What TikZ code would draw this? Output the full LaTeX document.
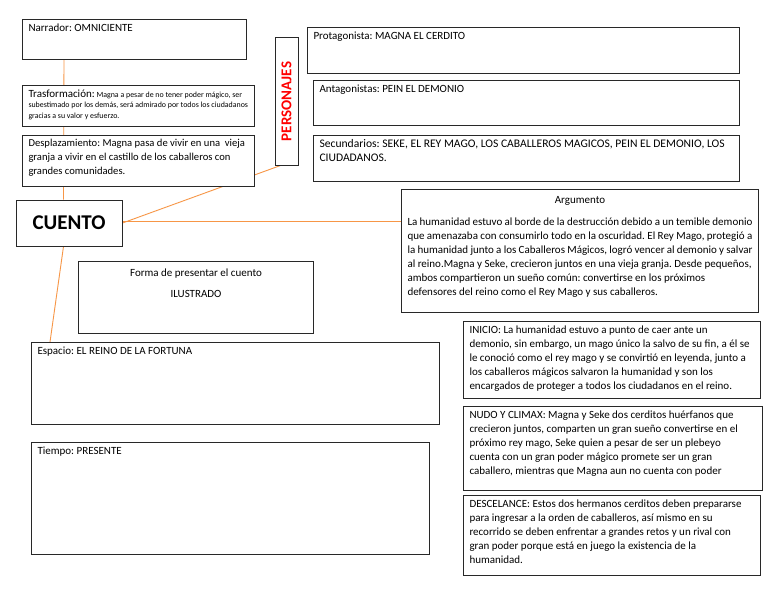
\documentclass[tikz,border=0pt]{standalone}
\usepackage{fontspec}
\setmainfont{Carlito}
\usepackage{tikz}
\usetikzlibrary{positioning,backgrounds}
\definecolor{naranja}{RGB}{247,150,70}
\definecolor{borde}{RGB}{40,40,40}
\definecolor{rojo}{RGB}{255,0,0}
\frenchspacing
\newcommand{\cajatxt}[3]{\parbox[t][#2][t]{#1}{\raggedright #3}}
\tikzset{
  caja/.style={draw=borde,line width=1pt,fill=white,anchor=north west,inner xsep=6pt,inner ysep=4pt,font=\fontsize{11}{14}\selectfont},
  titulo/.style={draw=borde,line width=1pt,fill=white,inner sep=0pt,font=\bfseries},
  enlace/.style={draw=naranja,line width=0.9pt},
}

\begin{document}
\begin{tikzpicture}[x=1pt,y=-1pt]
  \useasboundingbox (0,0) rectangle (768,594);
  % columna izquierda
  \node[caja] (narr) at (22,19) {\cajatxt{212pt}{32pt}{Narrador: OMNICIENTE}};
  \node[caja] (trasf) at (22,85) {\cajatxt{220pt}{33pt}{\fontsize{7.9}{10.5}\selectfont{\fontsize{11}{14}\selectfont Trasformación:} Magna a pesar de no tener poder mágico, ser\\subestimado por los demás, será admirado por todos los ciudadanos\\gracias a su valor y esfuerzo.}};
  \node[caja] (despl) at (22,135) {\cajatxt{220pt}{43pt}{\fontsize{10.6}{14}\selectfont Desplazamiento: Magna pasa de vivir en una~ vieja\\granja a vivir en el castillo de los caballeros con\\grandes comunidades.}};
  \node[titulo,minimum width=106pt,minimum height=46pt,font=\fontsize{21}{21}\selectfont\bfseries] (cuento) at (69,223) {CUENTO};
  \node[caja] (forma) at (78,261) {\cajatxt{223pt}{64pt}{\centering\vspace*{3pt}Forma de presentar el cuento\\[7pt]ILUSTRADO}};
  \node[caja] (espacio) at (31,342) {\cajatxt{396pt}{74pt}{Espacio: EL REINO DE LA FORTUNA}};
  \node[caja] (tiempo) at (31,442) {\cajatxt{386pt}{104pt}{Tiempo: PRESENTE}};
  % personajes
  \node[titulo,minimum width=23pt,minimum height=127pt,text=rojo,font=\fontsize{15}{15}\selectfont\bfseries] (pers) at (286.5,101.5) {\rotatebox{90}{PERSONAJES}};
  \node[caja] (prot) at (307,27) {\cajatxt{420pt}{38pt}{Protagonista: MAGNA EL CERDITO}};
  \node[caja] (antag) at (313,80) {\cajatxt{414pt}{37pt}{Antagonistas: PEIN EL DEMONIO}};
  \node[caja] (secund) at (313,135) {\cajatxt{414pt}{38pt}{\fontsize{11.6}{14}\selectfont Secundarios: SEKE, EL REY MAGO, LOS CABALLEROS MAGICOS, PEIN EL DEMONIO, LOS\\CIUDADANOS.}};
  % argumento y partes
  \node[caja] (argum) at (401,189) {\cajatxt{345pt}{115pt}{\vspace*{3pt}\centering Argumento\par\raggedright\vspace{8pt}La humanidad estuvo al borde de la destrucción debido a un temible demonio\\que amenazaba con consumirlo todo en la oscuridad. El Rey Mago, protegió a\\la humanidad junto a los Caballeros Mágicos, logró vencer al demonio y salvar\\al reino.Magna y Seke, crecieron juntos en una vieja granja. Desde pequeños,\\ambos compartieron un sueño común: convertirse en los próximos\\defensores del reino como el Rey Mago y sus caballeros.}};
  \node[caja] (inicio) at (463,321) {\cajatxt{285pt}{69pt}{INICIO: La humanidad estuvo a punto de caer ante un\\demonio, sin embargo, un mago único la salvo de su fin, a él se\\le conoció como el rey mago y se convirtió en leyenda, junto a\\los caballeros mágicos salvaron la humanidad y son los\\encargados de proteger a todos los ciudadanos en el reino.}};
  \node[caja] (nudo) at (463,406) {\cajatxt{287pt}{76pt}{NUDO Y CLIMAX: Magna y Seke dos cerditos huérfanos que\\crecieron juntos, comparten un gran sueño convertirse en el\\próximo rey mago, Seke quien a pesar de ser un plebeyo\\cuenta con un gran poder mágico promete ser un gran\\caballero, mientras que Magna aun no cuenta con poder}};
  \node[caja] (descel) at (463,495) {\cajatxt{285pt}{72pt}{DESCELANCE: Estos dos hermanos cerditos deben prepararse\\para ingresar a la orden de caballeros, así mismo en su\\recorrido se deben enfrentar a grandes retos y un rival con\\gran poder porque está en juego la existencia de la\\humanidad.}};
  % enlaces por detras de las cajas
  \begin{scope}[on background layer]
    \fill[white] (0,0) rectangle (768,594);
    \draw[enlace] ([xshift=42pt]narr.south west) -- ([xshift=48pt]cuento.north west);
    \draw[enlace] (cuento.east) -- ([xshift=6pt]pers.south west);
    \draw[enlace] ([yshift=2pt]cuento.east) -- ([yshift=2pt]cuento.east -| argum.west);
    \draw[enlace] ([xshift=48pt]cuento.south west) -- ([xshift=19pt]espacio.north west);
  \end{scope}
\end{tikzpicture}
\end{document}
